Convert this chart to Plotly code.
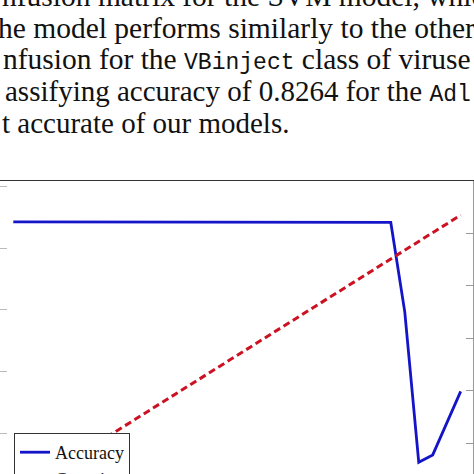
import plotly.graph_objects as go

# data
acc_x = [0, 26, 27, 28, 29, 30, 32]
accuracy = [0.943, 0.943, 0.942, 0.797, 0.553, 0.565, 0.668]

cap_x = [0, 32]
capacity = [0.0, 5.35]

acc_ticks = [0.6, 0.7, 0.8, 0.9, 1.0]
cap_ticks = [1, 2, 3, 4, 5]

# paper text above the chart (cropped page)
text_lines = [
    "nfusion matrix for the SVM model, which d",
    "he model performs similarly to the other",
    "nfusion for the <span style='font-family:Liberation Mono;font-size:23px'>VBinject</span> class of viruse",
    "assifying accuracy of 0.8264 for the <span style='font-family:Liberation Mono;font-size:23px'>Adl</span>",
    "t accurate of our models.",
]
line_left = [0, -4, 1, 3, 0]
line_base = [5, 36.7, 68.3, 100, 131.7]
line_size = [29.5, 29.5, 29.5, 29, 29]

W, H = 474, 474
L, R, T, B = 0, 1, 181, 0
pw, ph = W - L - R, H - T - B


def px(xp, yp):
    return (xp - L) / pw, (H - B - yp) / ph


fig = go.Figure()

fig.add_trace(go.Scatter(
    x=acc_x, y=accuracy, name="Accuracy", mode="lines",
    line=dict(color="#1414c8", width=2.8),
))
fig.add_trace(go.Scatter(
    x=cap_x, y=capacity, name="Capacity", mode="lines", yaxis="y2",
    line=dict(color="#cc1122", width=3, dash="7px,4px"),
))

for txt, xl, yb, fs in zip(text_lines, line_left, line_base, line_size):
    ax, ay = px(xl, yb - 9)
    fig.add_annotation(
        text=txt, x=ax, y=ay, xref="paper", yref="paper",
        xanchor="left", yanchor="middle", showarrow=False,
        font=dict(family="Liberation Serif", size=fs, color="#111111"),
    )

lx, ly = px(14, 433)
fig.update_layout(
    width=W, height=H,
    margin=dict(l=L, r=R, t=T, b=B, autoexpand=False),
    plot_bgcolor="white", paper_bgcolor="white",
    showlegend=True,
    legend=dict(
        x=lx, y=ly, xanchor="left", yanchor="top",
        bgcolor="white", bordercolor="#333333", borderwidth=1,
        font=dict(family="Liberation Serif", size=18, color="#111111"),
        itemwidth=30, tracegroupgap=0,
    ),
    xaxis=dict(
        range=[-0.951, 32.88], side="top", showline=True, linecolor="#333333",
        linewidth=1.3, ticks="", showticklabels=False, showgrid=False, zeroline=False,
    ),
    yaxis=dict(
        range=[0.534, 1.0092], tickvals=acc_ticks, ticks="inside", ticklen=7,
        tickcolor="#bbbbbb", showticklabels=False, showgrid=False, zeroline=False,
        showline=False,
    ),
    yaxis2=dict(
        range=[0.415, 6.0], tickvals=cap_ticks, overlaying="y", side="right",
        ticks="inside", ticklen=7, tickcolor="#999999", showticklabels=False,
        showgrid=False, zeroline=False, showline=True, linecolor="#999999", linewidth=1.5,
    ),
)

fig.write_html(
    "out.html",
    config={"displayModeBar": False},
    post_script="document.body.style.margin='0px';",
)
